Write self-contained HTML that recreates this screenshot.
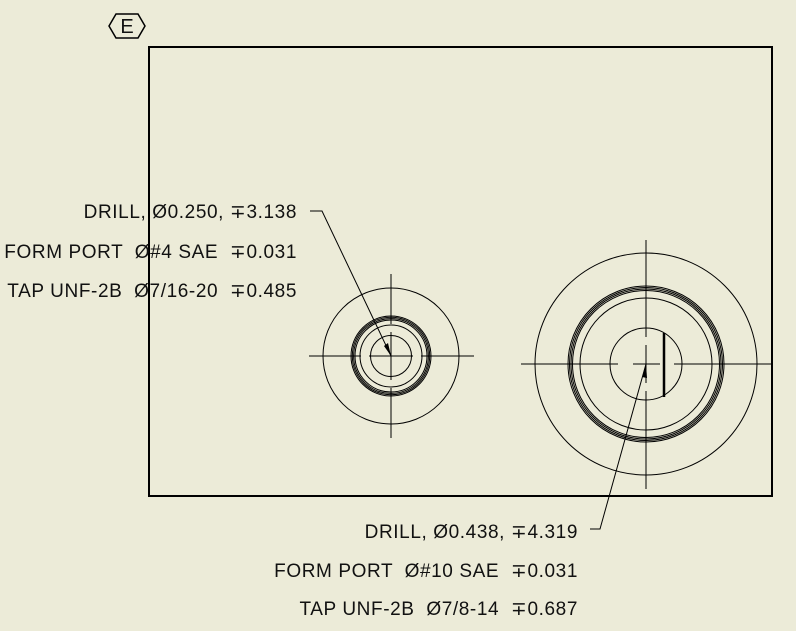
<!DOCTYPE html>
<html><head><style>
html,body{margin:0;padding:0;background:#ecebd8;}
svg{display:block}
text{font-family:"Liberation Sans",Arial,sans-serif;font-size:19px;letter-spacing:0.6px;fill:#111;white-space:pre;}
</style></head><body>
<svg width="796" height="631" viewBox="0 0 796 631" xmlns="http://www.w3.org/2000/svg" xml:space="preserve">
<rect x="0" y="0" width="796" height="631" fill="#ecebd8"/>
<polygon points="109,26 116,14 138,14 145,26 138,38 116,38" fill="none" stroke="#000" stroke-width="1.5"/>
<text x="127" y="33" text-anchor="middle" style="font-size:20px;letter-spacing:0">E</text>
<rect x="149" y="47" width="623" height="449" fill="none" stroke="#000" stroke-width="2"/>
<g fill="none" stroke="#000" stroke-width="1">
<circle cx="391" cy="356" r="68"/>
<circle cx="391" cy="356" r="40"/>
<circle cx="391" cy="356" r="38.7"/>
<circle cx="391" cy="356" r="37.4"/>
<circle cx="391" cy="356" r="36"/>
<circle cx="391" cy="356" r="31"/>
<circle cx="391" cy="356" r="20.5"/>
<path d="M309 356H361M369 356H413M421 356H474M391 274V324M391 332V380M391 388V438"/>
<circle cx="646" cy="364" r="111"/>
<circle cx="646" cy="364" r="78"/>
<circle cx="646" cy="364" r="76.5"/>
<circle cx="646" cy="364" r="75"/>
<circle cx="646" cy="364" r="73.5"/>
<circle cx="646" cy="364" r="66"/>
<circle cx="646" cy="364" r="36"/>
<path d="M521 364H618M633 364H660M674 364H771M646 240V337M646 345V383M646 391V489"/>
<path d="M310 211H322L391 356M590 529H600L646 364"/>
</g>
<line x1="664" y1="333" x2="664" y2="397" stroke="#000" stroke-width="2.5"/>
<polygon points="391,356 384,346 388,343" fill="#000"/>
<polygon points="646,364 642,377 647,378" fill="#000"/>
<g text-anchor="end">
<text x="297" y="218">DRILL, Ø0.250, ∓3.138</text>
<text x="297" y="258">FORM PORT  Ø#4 SAE  ∓0.031</text>
<text x="297" y="297">TAP UNF-2B  Ø7/16-20  ∓0.485</text>
<text x="578" y="538">DRILL, Ø0.438, ∓4.319</text>
<text x="578" y="577">FORM PORT  Ø#10 SAE  ∓0.031</text>
<text x="578" y="615">TAP UNF-2B  Ø7/8-14  ∓0.687</text>
</g>
</svg>
</body></html>
